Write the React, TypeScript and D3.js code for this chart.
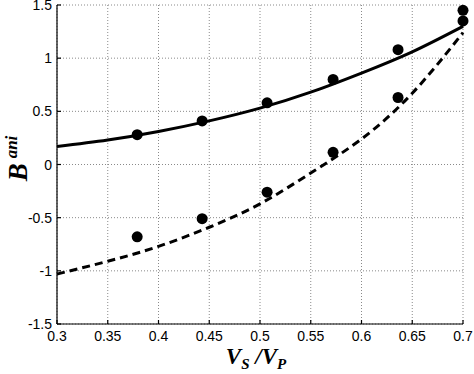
import * as d3 from "d3";

const xTicks = [0.3, 0.35, 0.4, 0.45, 0.5, 0.55, 0.6, 0.65, 0.7];
const yTicks = [-1.5, -1, -0.5, 0, 0.5, 1, 1.5];

// measured points
const pointX = [0.379, 0.443, 0.507, 0.572, 0.636, 0.7];
const solidPoints = [0.28, 0.41, 0.58, 0.8, 1.08, 1.35];
const dashedPoints = [-0.68, -0.51, -0.26, 0.115, 0.63, 1.45];

// fitted curves, read at 0.05 steps
const fitX = [0.3, 0.35, 0.4, 0.45, 0.5, 0.55, 0.6, 0.65, 0.7];
const solidFit = [0.17, 0.23, 0.31, 0.41, 0.53, 0.68, 0.86, 1.06, 1.3];
const dashedFit = [-1.03, -0.91, -0.77, -0.59, -0.37, -0.08, 0.24, 0.67, 1.24];

const width = 474;
const height = 374;
const marginLeft = 57;
const marginRight = 11;
const marginTop = 5;
const marginBottom = 50;

export default function App() {
  const x = d3.scaleLinear().domain([0.3, 0.7]).range([marginLeft, width - marginRight]);
  const y = d3.scaleLinear().domain([-1.5, 1.5]).range([height - marginBottom, marginTop]);

  const line = d3
    .line<number>()
    .x((_, i) => x(fitX[i]))
    .y((d) => y(d))
    .curve(d3.curveNatural);

  const x0 = x.range()[0];
  const x1 = x.range()[1];
  const y0 = y.range()[0];
  const y1 = y.range()[1];

  return (
    <svg
      width={width}
      height={height}
      style={{ position: "absolute", left: 0, top: 0, background: "white" }}
    >
      {/* grid */}
      <g stroke="#8a8a8a" strokeWidth={1} strokeDasharray="1,2">
        {xTicks.map((t) => (
          <line key={"gx" + t} x1={x(t)} x2={x(t)} y1={y0} y2={y1} />
        ))}
        {yTicks.map((t) => (
          <line key={"gy" + t} x1={x0} x2={x1} y1={y(t)} y2={y(t)} />
        ))}
      </g>

      {/* axes */}
      <g stroke="black" strokeWidth={1.2}>
        <line x1={x0} x2={x0} y1={y0} y2={y1} />
        <line x1={x0} x2={x1} y1={y0} y2={y0} />
        {xTicks.map((t) => (
          <line key={"tx" + t} x1={x(t)} x2={x(t)} y1={y0} y2={y0 - 4} />
        ))}
        {yTicks.map((t) => (
          <line key={"ty" + t} x1={x0} x2={x0 + 4} y1={y(t)} y2={y(t)} />
        ))}
      </g>

      <g fontFamily="Liberation Sans, Arial, sans-serif" fontSize={14} fill="black">
        {xTicks.map((t) => (
          <text key={"lx" + t} x={x(t)} y={y0 + 17} textAnchor="middle">
            {String(t)}
          </text>
        ))}
        {yTicks.map((t) => (
          <text key={"ly" + t} x={x0 - 5} y={y(t) + 5} textAnchor="end">
            {String(t)}
          </text>
        ))}
      </g>

      {/* fits */}
      <path d={line(solidFit) || ""} fill="none" stroke="black" strokeWidth={3} />
      <path
        d={line(dashedFit) || ""}
        fill="none"
        stroke="black"
        strokeWidth={3}
        strokeDasharray="8,5"
      />

      {/* points */}
      {pointX.map((px, i) => (
        <circle key={"s" + i} cx={x(px)} cy={y(solidPoints[i])} r={5.5} fill="black" />
      ))}
      {pointX.map((px, i) => (
        <circle key={"d" + i} cx={x(px)} cy={y(dashedPoints[i])} r={5.5} fill="black" />
      ))}

      {/* axis titles */}
      <text
        x={(x0 + x1) / 2 - 4}
        y={364}
        textAnchor="middle"
        fontFamily="Liberation Serif, Times New Roman, serif"
        fontWeight="bold"
        fontStyle="italic"
        fontSize={23}
      >
        V<tspan fontSize={15} dy={5}>S</tspan>
        <tspan dy={-5}> /V</tspan>
        <tspan fontSize={15} dy={5}>P</tspan>
      </text>
      <text
        transform={`translate(27,${(y0 + y1) / 2 - 6}) rotate(-90)`}
        textAnchor="middle"
        fontFamily="Liberation Serif, Times New Roman, serif"
        fontWeight="bold"
        fontStyle="italic"
        fontSize={27}
      >
        B<tspan fontSize={17} dy={-10} dx={5}>ani</tspan>
      </text>
    </svg>
  );
}
